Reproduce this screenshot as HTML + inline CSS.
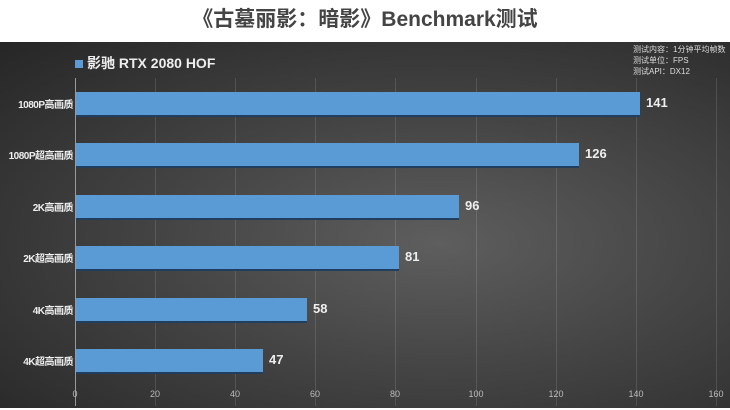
<!DOCTYPE html><html><head><meta charset="utf-8"><style>
body{margin:0;width:730px;height:410px;overflow:hidden;background:#fff;font-family:"Liberation Sans","Noto Sans CJK SC",sans-serif}
#t{position:absolute;left:0;top:0;width:730px;height:42px;text-align:center;line-height:40px;font-size:21px;font-weight:bold;color:#444}
#p{position:absolute;left:0;top:42px;width:730px;height:366px;background:radial-gradient(ellipse at 60% 55%,#5e5e5e 0%,#444 45%,#262626 100%)}
.g{position:absolute;top:36px;height:328px;width:1px;background:rgba(255,255,255,0.12)}
.b{position:absolute;left:76px;height:23px;background:#5b9bd5;box-shadow:0 2px 0 #1f3e60}
.v{position:absolute;color:#eee;font-size:13px;font-weight:bold}
.c{position:absolute;right:657px;color:#eee;font-size:10px;font-weight:bold;text-align:right;white-space:nowrap;letter-spacing:-0.5px}
.x{position:absolute;top:347px;color:#bbb;font-size:9px;width:30px;margin-left:-15px;text-align:center}
</style></head><body>
<div id="t">《古墓丽影：暗影》Benchmark测试</div>
<div id="p">
<div style="position:absolute;left:75px;top:11px;color:#eee;font-size:14px;font-weight:bold"><span style="display:inline-block;width:8px;height:8px;background:#5b9bd5;margin-right:4px"></span>影驰 RTX 2080 HOF</div>
<div style="position:absolute;left:633px;top:2px;color:#ddd;font-size:8px;line-height:11px;white-space:nowrap">测试内容：1分钟平均帧数<br>测试单位：FPS<br>测试API：DX12</div>
<div class="g" style="left:75px;background:#999"></div>
<div class="g" style="left:155px"></div><div class="g" style="left:235px"></div><div class="g" style="left:315px"></div><div class="g" style="left:395px"></div><div class="g" style="left:476px"></div><div class="g" style="left:556px"></div><div class="g" style="left:636px"></div><div class="g" style="left:716px"></div>
<div class="b" style="top:50px;width:564px"></div><div class="v" style="left:646px;top:53px">141</div><div class="c" style="top:54px">1080P高画质</div>
<div class="b" style="top:101px;width:503px"></div><div class="v" style="left:585px;top:104px">126</div><div class="c" style="top:105px">1080P超高画质</div>
<div class="b" style="top:153px;width:383px"></div><div class="v" style="left:465px;top:156px">96</div><div class="c" style="top:157px">2K高画质</div>
<div class="b" style="top:204px;width:323px"></div><div class="v" style="left:405px;top:207px">81</div><div class="c" style="top:208px">2K超高画质</div>
<div class="b" style="top:256px;width:231px"></div><div class="v" style="left:313px;top:259px">58</div><div class="c" style="top:260px">4K高画质</div>
<div class="b" style="top:307px;width:187px"></div><div class="v" style="left:269px;top:310px">47</div><div class="c" style="top:311px">4K超高画质</div>
<div class="x" style="left:75px">0</div><div class="x" style="left:155px">20</div><div class="x" style="left:235px">40</div><div class="x" style="left:315px">60</div><div class="x" style="left:395px">80</div><div class="x" style="left:476px">100</div><div class="x" style="left:556px">120</div><div class="x" style="left:636px">140</div><div class="x" style="left:716px">160</div>
</div>
</body></html>
